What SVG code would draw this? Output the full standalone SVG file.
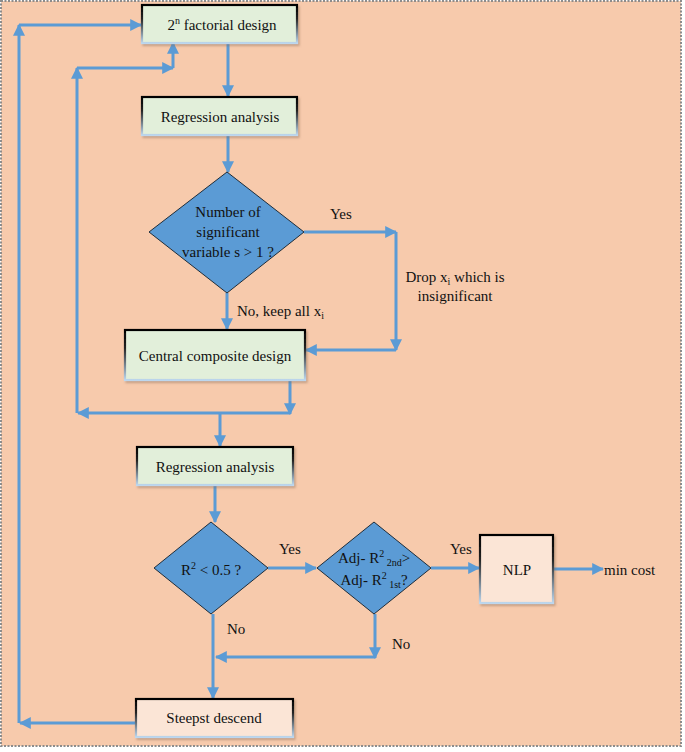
<svg xmlns="http://www.w3.org/2000/svg" width="685" height="752" viewBox="0 0 685 752">
<defs>
<linearGradient id="edge" x1="0" y1="0" x2="0" y2="1">
<stop offset="0" stop-color="#000"/>
<stop offset="0.35" stop-color="#222"/>
<stop offset="1" stop-color="#BDD7EE"/>
</linearGradient>
<filter id="sh" x="-10%" y="-10%" width="125%" height="130%">
<feDropShadow dx="1.5" dy="2" stdDeviation="1.2" flood-color="#8a6a55" flood-opacity="0.45"/>
</filter>
<marker id="ah" viewBox="0 0 10 10" refX="9" refY="5" markerWidth="4" markerHeight="4" orient="auto" markerUnits="strokeWidth">
<path d="M0,0 L10,5 L0,10 z" fill="#5B9BD5"/>
</marker>
</defs>
<style>
.bg{fill:#F7CAAC;stroke:#8c8c8c;stroke-width:2;stroke-dasharray:2 1.5}
.box{fill:#E2EFDA;stroke:url(#edge);stroke-width:2.2;filter:url(#sh)}
.box2{fill:#FBE5D6;stroke:url(#edge);stroke-width:2.2;filter:url(#sh)}
.dia{fill:#5B9BD5;stroke:#1f2d3a;stroke-width:1}
.ln{fill:none;stroke:#5B9BD5;stroke-width:3;stroke-linejoin:miter}
.arr{marker-end:url(#ah)}
text{font-family:"Liberation Serif","Times New Roman",serif;font-size:15px;fill:#111}
.c{text-anchor:middle}
.sub{font-size:10px}
</style>
<rect x="0" y="0" width="685" height="752" fill="#ffffff"/>
<rect class="bg" x="1" y="1" width="680" height="745"/>

<g id="connectors">
<!-- box1 -> box2 -->
<line class="ln arr" x1="228" y1="43" x2="228" y2="96"/>
<!-- box2 -> diamond1 -->
<line class="ln arr" x1="228" y1="135" x2="228" y2="172"/>
<!-- diamond1 yes -->
<polyline class="ln arr" points="304,232 396,232"/>
<polyline class="ln arr" points="396,232 396,350"/>
<polyline class="ln arr" points="396,350 306,350"/>
<!-- diamond1 no -->
<line class="ln arr" x1="227" y1="293" x2="227" y2="329"/>
<!-- box3 down -->
<line class="ln arr" x1="290" y1="380" x2="290" y2="414"/>
<polyline class="ln arr" points="290,413 78,413"/>
<!-- inner loop up -->
<polyline class="ln arr" points="77,413 77,68"/>
<polyline class="ln arr" points="77,68 173,68"/>
<polyline class="ln arr" points="173,68 173,43"/>
<!-- to box4 -->
<line class="ln arr" x1="220" y1="413" x2="220" y2="446"/>
<!-- box4 -> diamond2 -->
<line class="ln arr" x1="215" y1="485" x2="215" y2="522"/>
<!-- diamond2 yes -->
<line class="ln arr" x1="268" y1="568" x2="316" y2="568"/>
<!-- diamond3 yes -->
<line class="ln arr" x1="431" y1="568" x2="479" y2="568"/>
<!-- NLP -> min cost -->
<line class="ln arr" x1="553" y1="569" x2="603" y2="569"/>
<!-- diamond3 no -->
<line class="ln arr" x1="375" y1="614" x2="375" y2="658"/>
<polyline class="ln arr" points="375,657 216,657"/>
<!-- diamond2 no -->
<line class="ln arr" x1="213" y1="614" x2="213" y2="698"/>
<!-- steepest -> outer loop -->
<polyline class="ln arr" points="136,723 20,723"/>
<polyline class="ln arr" points="19,723 19,25"/>
<polyline class="ln arr" points="19,25 141,25"/>
</g>

<g id="box1">
<rect class="box" x="142" y="5" width="155" height="38"/>
<text class="c" x="222" y="30">2<tspan class="sub" dy="-6">n</tspan><tspan dy="6"> factorial design</tspan></text>
</g>
<g id="box2">
<rect class="box" x="142" y="97" width="155" height="38"/>
<text class="c" x="220" y="122">Regression analysis</text>
</g>
<g id="diamond1">
<polygon class="dia" points="227,172 304,232 227,293 149,232"/>
<text class="c" x="228" y="217">Number of</text>
<text class="c" x="228" y="237">significant</text>
<text class="c" x="228" y="257">variable s &gt; 1 ?</text>
</g>
<g id="label-yes1"><text x="330" y="219">Yes</text></g>
<g id="label-drop">
<text class="c" x="455" y="282">Drop x<tspan class="sub" dy="3">i</tspan><tspan dy="-3"> which is</tspan></text>
<text class="c" x="455" y="301">insignificant</text>
</g>
<g id="label-no1"><text x="237" y="316">No, keep all x<tspan class="sub" dy="3">i</tspan></text></g>
<g id="box3">
<rect class="box" x="125" y="330" width="180" height="50"/>
<text class="c" x="215" y="361">Central composite design</text>
</g>
<g id="box4">
<rect class="box" x="137" y="447" width="156" height="38"/>
<text class="c" x="215" y="472">Regression analysis</text>
</g>
<g id="diamond2">
<polygon class="dia" points="211,522 268,568 211,614 154,568"/>
<text class="c" x="211" y="575">R<tspan class="sub" dy="-6">2</tspan><tspan dy="6"> &lt; 0.5 ?</tspan></text>
</g>
<g id="label-yes2"><text x="279" y="554">Yes</text></g>
<g id="diamond3">
<polygon class="dia" points="374,522 431,568 374,614 317,568"/>
<text class="c" x="374" y="563">Adj- R<tspan class="sub" dy="-6">2</tspan><tspan class="sub" dy="9"> 2nd</tspan><tspan dy="-3">&gt;</tspan></text>
<text class="c" x="374" y="585">Adj- R<tspan class="sub" dy="-6">2</tspan><tspan class="sub" dy="9"> 1st</tspan><tspan dy="-3">?</tspan></text>
</g>
<g id="label-yes3"><text x="450" y="554">Yes</text></g>
<g id="nlp">
<rect class="box2" x="480" y="535" width="73" height="68"/>
<text class="c" x="517" y="575">NLP</text>
</g>
<g id="label-mincost"><text x="604" y="575">min cost</text></g>
<g id="label-no2"><text x="227" y="634">No</text></g>
<g id="label-no3"><text x="392" y="649">No</text></g>
<g id="box5">
<rect class="box2" x="136" y="699" width="157" height="38"/>
<text class="c" x="214" y="723">Steepst descend</text>
</g>
</svg>
